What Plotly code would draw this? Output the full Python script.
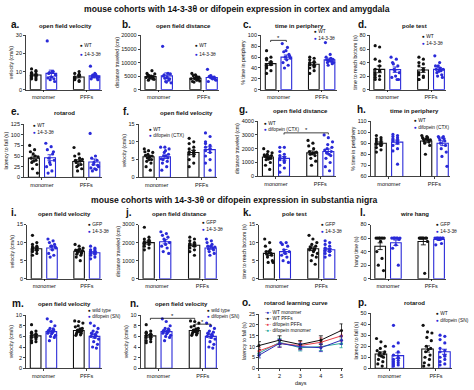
import plotly.graph_objects as go

W, H = 474, 390
BLUE = "#2a2ad8"
BLACK = "#111111"
FONT = "Liberation Sans, Arial, sans-serif"
GROUPS = ["monomer", "PFFs"]

# ---------------- data ----------------
# a. open field velocity (cm/s)  [WT mono, 14-3-3 mono, WT PFF, 14-3-3 PFF]
a_pts = [[7.5, 8, 9, 10, 11.5, 6.5, 7, 8.5, 9.5, 10.5, 6, 7.5, 8, 5.5],
         [27, 10, 9, 6, 5.5, 8, 7, 6.5, 10, 9.5, 4.5, 7],
         [7, 8, 6, 5, 9, 10, 6.5, 7.5, 5.5, 8.5, 6, 4.5, 7, 8],
         [13, 8.5, 7, 6.5, 8, 7, 9, 6, 7.5, 8, 5.5, 7]]
a_mean = [8.1, 9.0, 7.0, 7.6]
a_sem = [0.5, 1.8, 0.5, 0.6]
# b. open field distance (cm)
b_pts = [[4500, 5000, 6000, 7000, 5500, 4000, 3500, 4800, 5200, 3800, 4200, 5800, 4600],
         [16000, 6000, 5500, 4000, 3000, 2500, 4500, 5000, 3500, 4200, 5800, 2800],
         [4000, 5000, 6000, 3500, 3000, 4500, 5200, 3800, 2800, 4600, 4100, 3200, 5500],
         [7500, 4500, 5000, 3500, 4000, 4800, 3800, 4200, 3000, 4600, 5200]]
b_mean = [4800, 5100, 4200, 4500]
b_sem = [300, 1100, 280, 350]
# c. time in periphery (%)
c_pts = [[72, 60, 55, 50, 45, 48, 40, 35, 30, 52, 58, 46, 42, 47],
         [85, 78, 70, 65, 60, 58, 55, 50, 45, 40, 62, 72],
         [60, 58, 55, 50, 48, 45, 40, 35, 30, 52, 46, 42, 50, 44],
         [87, 65, 60, 58, 55, 52, 50, 48, 45, 56, 54, 50, 53]]
c_mean = [48, 60, 47, 55]
c_sem = [3, 4, 3, 3]
# d. pole test (s)
d_pts = [[65, 63, 45, 35, 30, 28, 25, 20, 18, 15, 22, 27, 15, 42],
         [48, 45, 40, 35, 30, 25, 20, 18, 15, 38, 15, 28],
         [48, 45, 40, 38, 35, 30, 25, 20, 15, 18, 22, 28, 15, 30],
         [50, 40, 35, 32, 30, 28, 25, 22, 20, 18, 35, 30, 27]]
d_mean = [30, 29.5, 29, 30]
d_sem = [5, 4, 3.5, 2.5]
# e. rotarod (s)
e_pts = [[75, 65, 60, 50, 45, 40, 35, 30, 20, 10, 55, 48, 38],
         [80, 72, 65, 55, 45, 40, 30, 25, 15, 10, 60, 35],
         [70, 55, 50, 45, 40, 38, 35, 30, 25, 20, 15, 42, 28],
         [103, 50, 45, 40, 30, 25, 20, 22, 18, 15, 28, 35]]
e_mean = [45, 46, 37, 36]
e_sem = [5, 7, 4, 7]
# f. open field velocity (cm/s)
f_pts = [[8, 7.5, 7, 6.5, 6, 5.5, 5, 4.5, 4, 3, 2, 6.2, 5.8, 7.2, 5],
         [8.5, 8.5, 8, 7, 6.5, 6, 5.5, 5, 4.5, 4, 3, 2, 6, 5.2, 7.5],
         [11, 10, 9.5, 8.5, 8, 7, 6.5, 6, 5, 4, 3, 7.5, 7.2, 6.8],
         [12.5, 11.5, 10, 9, 8.5, 8, 7.5, 7, 6, 5, 4, 2, 9.5, 8]]
f_mean = [5.8, 5.8, 7.0, 7.8]
f_sem = [0.4, 0.5, 0.6, 0.8]
# g. open field distance (cm)
g_pts = [[2000, 1800, 1700, 1600, 1500, 1400, 1300, 1200, 1000, 800, 500, 1450, 1350, 1550, 1250],
         [2100, 2100, 1800, 1600, 1500, 1400, 1200, 1000, 800, 600, 300, 1300, 1350, 1100],
         [2600, 2400, 2200, 2000, 1800, 1700, 1600, 1500, 1300, 1100, 800, 1750, 1650],
         [3000, 2800, 2500, 2300, 2100, 2000, 1800, 1700, 1500, 1300, 1000, 700, 400, 1900, 1600]]
g_mean = [1400, 1300, 1700, 1800]
g_sem = [100, 130, 140, 180]
# h. time in periphery (%)
h_pts = [[97, 95, 94, 93, 92, 90, 89, 88, 86, 84, 82, 91, 90, 88],
         [98, 97, 96, 95, 94, 93, 92, 90, 88, 85, 83, 71, 93, 91],
         [97, 96, 95, 95, 94, 93, 92, 91, 90, 88, 80, 93, 94],
         [96, 96, 95, 94, 93, 92, 90, 88, 85, 82, 78, 69, 95]]
h_mean = [90, 91, 92, 90]
h_sem = [1.2, 1.8, 1.2, 2.2]
# i. open field velocity (cm/s)
i_pts = [[12, 10, 9.5, 9, 8.5, 8.2, 8, 7.8, 7.5, 7, 6.5, 8.5, 8.8, 8],
         [11, 10.5, 10, 9.5, 9, 8.5, 8, 7, 6.5, 6, 8.8, 9],
         [9.5, 9, 8.5, 8, 7.8, 7.6, 7.5, 7.2, 7, 6.8, 6.5, 6, 5, 7.9, 8.2],
         [9, 8.5, 8, 7.8, 7.5, 7.2, 7, 6.8, 6.5, 6, 5.5, 7.3, 7.6, 8.2]]
i_mean = [8.3, 8.5, 7.6, 7.2]
i_sem = [0.4, 0.5, 0.3, 0.3]
# j. open field distance (cm)
j_pts = [[2850, 2300, 2200, 2100, 2050, 2000, 1950, 1900, 1800, 1700, 1600, 2050, 1950, 2150],
         [2600, 2500, 2400, 2300, 2200, 2000, 1900, 1800, 1700, 1500, 1400, 2100],
         [2300, 2200, 2100, 2000, 1950, 1900, 1850, 1800, 1700, 1600, 1500, 1300, 1900, 1850],
         [2200, 2100, 2000, 1900, 1800, 1700, 1650, 1600, 1500, 1400, 1300, 1750, 1800]]
j_mean = [2000, 2050, 1850, 1700]
j_sem = [80, 120, 70, 70]
# k. pole test (s)
k_pts = [[11, 10, 9, 8, 7.5, 7, 6.8, 6.5, 6, 5, 4.5, 4.5, 7.5],
         [10, 10, 9.5, 9, 8, 7.5, 7, 6.5, 6, 5, 4.5, 7.2],
         [12, 11, 10, 9.5, 9, 8.5, 8.3, 8, 7.5, 7, 6.5, 6, 5, 4, 8.8, 8],
         [10.5, 10, 9.5, 9, 8.5, 8, 7.8, 7.5, 7, 6.5, 6, 8.2, 8.4, 7.6]]
k_mean = [7.0, 7.5, 8.3, 8.0]
k_sem = [0.6, 0.6, 0.5, 0.4]
# l. wire hang (s)
l_pts = [[60, 60, 60, 60, 60, 60, 55, 40, 30, 20, 12, 60],
         [60, 60, 60, 60, 60, 60, 58, 50, 45, 20, 60],
         [60, 60, 60, 60, 60, 60, 60, 55, 8, 60],
         [60, 60, 60, 60, 60, 60, 60, 58, 50, 52, 60]]
l_mean = [48, 53, 55, 58]
l_sem = [5, 4, 5, 1.5]
# m./n. open field velocity (cm/s)
m_pts = [[8.2, 7, 6.8, 6.5, 6.2, 6, 5.8, 5.5, 5.2, 5, 4.8, 6.3, 6.6, 5.8],
         [9.3, 8.8, 8, 7.5, 7.2, 7, 6.8, 6.6, 6.5, 6.2, 6, 5.8, 5.2, 7.4, 7.1, 6.9],
         [8.9, 8.8, 8.5, 8, 7.5, 7.2, 7, 6.8, 6.6, 6.5, 6.3, 6.2, 7.4, 7.8, 6.9],
         [8.5, 8, 7.5, 7, 6.8, 6.5, 6.2, 6, 5.8, 5.5, 5, 4.5, 4, 3.8, 6.6, 6.4]]
m_mean = [6.1, 6.9, 7.1, 6.0]
m_sem = [0.25, 0.25, 0.2, 0.3]
# o. rotarod learning curve (s)
o_days = [1, 2, 3, 4, 5]
o_wt_mono = [6, 11.5, 10, 9.5, 13]
o_wt_mono_err = [1.2, 1.8, 1.5, 1.8, 2.0]
o_wt_pff = [10.5, 13, 11, 13, 17.5]
o_wt_pff_err = [1.8, 2.0, 1.8, 2.0, 3.0]
o_dif_pff = [8, 11.5, 10.5, 12, 15]
o_dif_pff_err = [1.5, 1.8, 1.8, 2.0, 2.5]
o_dif_mono = [7, 12, 9.5, 10, 11.5]
o_dif_mono_err = [1.2, 1.8, 1.5, 1.8, 2.0]
# p. rotarod (s)
p_pts = [[27, 24, 20, 18, 15, 14, 13, 12, 10, 8, 6, 4, 2, 16, 11],
         [39, 23, 20, 15, 12, 10, 8, 7, 6, 5, 4, 3, 2, 9],
         [39, 33, 32, 28, 25, 20, 18, 15, 12, 10, 8, 5, 3, 2, 17],
         [30, 29, 26, 23, 18, 16, 15, 12, 10, 8, 6, 4, 3, 11]]
p_mean = [13, 11.5, 17.5, 15]
p_sem = [1.8, 2.5, 2.8, 2.3]

# ---------------- figure ----------------
fig = go.Figure()
axes = {}
annotations = []
shapes = []
XPOS = [0, 1, 2.75, 3.75]


def fx(px):
    return px / W


def fy(py):
    return 1 - py / H


def axis_common():
    return dict(showline=True, linecolor=BLACK, linewidth=0.8, ticks="outside",
                ticklen=2, tickwidth=0.8, tickcolor=BLACK, showgrid=False,
                zeroline=False, fixedrange=True,
                tickfont=dict(size=5.5, color=BLACK, family=FONT))


def add_text(x, y, text, size=5.5, bold=False, anchor="center", xref="paper", yref="paper"):
    if bold:
        text = "<b>" + text + "</b>"
    annotations.append(dict(x=x, y=y, xref=xref, yref=yref, text=text, showarrow=False,
                            xanchor=anchor, yanchor="middle",
                            font=dict(size=size, color=BLACK, family=FONT)))


def add_legend(xpx, ypx, items, size=4.8):
    for n, (col, label, sym) in enumerate(items):
        add_text(fx(xpx), fy(ypx[n]), f"<span style='color:{col}'>{sym}</span> {label}",
                 size=size, anchor="left")


def bar_panel(k, L, R, T, B, pts, means, sems, yr, yt, ytitle):
    xa, ya = f"x{k}", f"y{k}"
    for j in range(4):
        col = BLACK if j % 2 == 0 else BLUE
        fig.add_trace(go.Bar(x=[XPOS[j]], y=[means[j]], width=0.68, xaxis=xa, yaxis=ya,
                             marker=dict(color="white", line=dict(color=col, width=1.1)),
                             showlegend=False, hoverinfo="skip"))
    for j in range(4):
        col = BLACK if j % 2 == 0 else BLUE
        n = len(pts[j])
        offs = [(((i * 7) % n) / max(n - 1, 1) - 0.5) * 0.52 for i in range(n)]
        fig.add_trace(go.Scatter(x=[XPOS[j] + o for o in offs], y=pts[j], mode="markers",
                                 xaxis=xa, yaxis=ya, cliponaxis=False,
                                 marker=dict(color=col, size=3.2, line=dict(width=0)),
                                 showlegend=False, hoverinfo="skip"))
    for j in range(4):
        col = BLACK if j % 2 == 0 else BLUE
        fig.add_trace(go.Scatter(x=[XPOS[j]], y=[means[j]], mode="markers",
                                 xaxis=xa, yaxis=ya,
                                 marker=dict(size=1, opacity=0),
                                 error_y=dict(type="data", array=[sems[j]], arrayminus=[sems[j]],
                                              color=col, thickness=0.9, width=2.5),
                                 showlegend=False, hoverinfo="skip"))
    xk = "xaxis" if k == 1 else f"xaxis{k}"
    yk = "yaxis" if k == 1 else f"yaxis{k}"
    axes[xk] = dict(axis_common(), domain=[fx(L), fx(R)], anchor=ya, range=[-0.62, 4.2],
                    tickvals=[0.5, 3.25], ticktext=GROUPS)
    axes[yk] = dict(axis_common(), domain=[fy(B), fy(T)], anchor=xa, range=yr,
                    tickvals=yt, ticktext=[str(v) for v in yt],
                    title=dict(text=ytitle, standoff=1,
                               font=dict(size=5.2, color=BLACK, family=FONT)))


def bracket(k, x0, x1, y, dy, star_dy):
    xa, ya = f"x{k}", f"y{k}"
    for (a, b, c, d) in [(x0, y, x1, y), (x0, y, x0, y - dy), (x1, y, x1, y - dy)]:
        shapes.append(dict(type="line", xref=xa, yref=ya, x0=a, y0=b, x1=c, y1=d,
                           line=dict(color=BLACK, width=0.8)))
    add_text((x0 + x1) / 2, y + star_dy, "*", size=6, xref=xa, yref=ya)


def leg2(xpx, y1, y2, name1, name2):
    add_legend(xpx, [y1, y2], [(BLACK, name1, "●"), (BLUE, name2, "●")])


# main titles
add_text(0.497, fy(6), "mouse cohorts with 14-3-3θ or difopein expression in cortex and amygdala",
         size=8.6, bold=True)
add_text(0.493, fy(200), "mouse cohorts with 14-3-3θ or difopein expression in substantia nigra",
         size=8.6, bold=True)

# row 1
bar_panel(1, 24, 100, 33, 88, a_pts, a_mean, a_sem, [0, 30], [0, 10, 20, 30], "velocity (cm/s)")
bar_panel(2, 139, 218, 33, 88, b_pts, b_mean, b_sem, [0, 20000], [0, 5000, 10000, 15000, 20000],
          "distance traveled (cm)")
bar_panel(3, 260, 336, 33, 88, c_pts, c_mean, c_sem, [0, 100], [0, 20, 40, 60, 80, 100],
          "% time in periphery")
bar_panel(4, 369, 446, 33, 88, d_pts, d_mean, d_sem, [0, 80], [0, 20, 40, 60, 80],
          "time to reach bottom (s)")
# row 2
bar_panel(5, 22, 100, 123, 177, e_pts, e_mean, e_sem, [0, 125], [0, 25, 50, 75, 100, 125],
          "latency to fall (s)")
bar_panel(6, 137, 216, 123, 177, f_pts, f_mean, f_sem, [0, 15], [0, 5, 10, 15], "velocity (cm/s)")
bar_panel(7, 257, 335, 120, 176, g_pts, g_mean, g_sem, [0, 4000], [0, 1000, 2000, 3000, 4000],
          "distance traveled (cm)")
bar_panel(8, 370, 450, 120, 176, h_pts, h_mean, h_sem, [60, 110], [60, 70, 80, 90, 100, 110],
          "% time in periphery")
# row 3
bar_panel(9, 25, 100, 225, 280, i_pts, i_mean, i_sem, [0, 15], [0, 5, 10, 15], "velocity (cm/s)")
bar_panel(10, 137, 217, 225, 280, j_pts, j_mean, j_sem, [0, 3000], [0, 1000, 2000, 3000],
          "distance traveled (cm)")
bar_panel(11, 258, 336, 225, 280, k_pts, k_mean, k_sem, [0, 15], [0, 5, 10, 15],
          "time to reach bottom (s)")
bar_panel(12, 370, 446, 225, 280, l_pts, l_mean, l_sem, [0, 80], [0, 20, 40, 60, 80], "hang time (s)")
# row 4
bar_panel(13, 24, 100, 317, 371, m_pts, m_mean, m_sem, [0, 10], [0, 2, 4, 6, 8, 10], "velocity (cm/s)")
bar_panel(14, 139, 217, 317, 371, m_pts, m_mean, m_sem, [0, 10], [0, 2, 4, 6, 8, 10], "velocity (cm/s)")
bar_panel(16, 370, 452, 315, 371, p_pts, p_mean, p_sem, [0, 50], [0, 10, 20, 30, 40, 50],
          "latency to fall (s)")

# panel o line chart
O_SERIES = [("WT monomer", o_wt_mono, o_wt_mono_err, "#2b2bb8"),
            ("WT PFFs", o_wt_pff, o_wt_pff_err, BLACK),
            ("difopein PFFs", o_dif_pff, o_dif_pff_err, "#e8404a"),
            ("difopein monomer", o_dif_mono, o_dif_mono_err, "#2aa89a")]
for name, ys, es, col in reversed(O_SERIES):
    fig.add_trace(go.Scatter(x=o_days, y=ys, mode="lines+markers", xaxis="x15", yaxis="y15",
                             line=dict(color=col, width=1), marker=dict(color=col, size=3),
                             error_y=dict(type="data", array=es, color=col, thickness=0.8, width=2),
                             showlegend=False, hoverinfo="skip", cliponaxis=False))
axes["xaxis15"] = dict(axis_common(), domain=[fx(258), fx(342)], anchor="y15", range=[1, 5.05],
                       tickvals=o_days, ticktext=[str(d) for d in o_days])
axes["yaxis15"] = dict(axis_common(), domain=[fy(371), fy(316)], anchor="x15", range=[0, 25],
                       tickvals=[0, 5, 10, 15, 20, 25], ticktext=["0", "5", "10", "15", "20", "25"],
                       title=dict(text="latency to fall (s)", standoff=1,
                                  font=dict(size=5.2, color=BLACK, family=FONT)))
add_text(fx(300), fy(385.5), "days", size=5.5)
add_legend(262, [314, 320, 327, 333], [(c, n, "-●-") for n, _, _, c in O_SERIES], size=4.8)

# significance brackets
bracket(3, 0, 1, 91, 3, 4)
bracket(7, 1, 3.75, 3150, 120, 180)
bracket(14, 0, 2.75, 9.4, 0.3, 0.4)
bracket(14, 2.75, 3.75, 8.3, 0.3, 0.4)

# legends
leg2(76, 43, 52, "WT", "14-3-3θ")
leg2(192, 43, 52, "WT", "14-3-3θ")
leg2(311, 29, 36, "WT", "14-3-3θ")
leg2(420, 34, 41, "WT", "14-3-3θ")
leg2(29, 124, 132, "WT", "14-3-3θ")
leg2(146, 128, 135, "WT", "difopein (CTX)")
leg2(261, 122, 128, "WT", "difopein (CTX)")
leg2(412, 119, 126, "WT", "difopein (CTX)")
leg2(84, 225, 232, "GFP", "14-3-3θ")
leg2(199, 223, 230, "GFP", "14-3-3θ")
leg2(318, 225, 232, "GFP", "14-3-3θ")
leg2(434, 225, 232, "GFP", "14-3-3θ")
leg2(84, 312, 318, "wild type", "difopein (SN)")
leg2(204, 312, 318, "wild type", "difopein (SN)")
leg2(434, 315, 322, "WT", "difopein (SN)")

# panel letters and titles
LETTERS = [("a.", 7, 22), ("b.", 118, 22), ("c.", 240, 22), ("d.", 355, 22),
           ("e.", 7, 110), ("f.", 120, 110), ("g.", 236, 108), ("h.", 354, 108),
           ("i.", 7, 213), ("j.", 122, 213), ("k.", 240, 213), ("l.", 358, 213),
           ("m.", 8, 305), ("n.", 127, 305), ("o.", 239, 304), ("p.", 356, 304)]
for t, x, y in LETTERS:
    add_text(fx(x), fy(y), t, size=10, bold=True, anchor="left")

TITLES = [("open field velocity", 64, 23), ("open field distance", 182, 23),
          ("time in periphery", 299, 23), ("pole test", 414, 23),
          ("rotarod", 63, 112), ("open field velocity", 185, 112),
          ("open field distance", 300, 110), ("time in periphery", 414, 110),
          ("open field velocity", 63, 214), ("open field distance", 178, 214),
          ("pole test", 294, 214), ("wire hang", 414, 214),
          ("open field velocity", 63, 306), ("open field velocity", 180, 306),
          ("rotarod learning curve", 295, 305), ("rotarod", 414, 305)]
for t, x, y in TITLES:
    add_text(fx(x), fy(y), t, size=6, bold=True)

fig.update_layout(width=W, height=H, margin=dict(l=0, r=0, t=0, b=0),
                  paper_bgcolor="white", plot_bgcolor="white", showlegend=False,
                  barmode="overlay", font=dict(family=FONT, color=BLACK, size=5.5),
                  annotations=annotations, shapes=shapes, **axes)
fig.write_html("out.html", config={"staticPlot": True},
               post_script="document.body.style.margin='0';document.body.style.overflow='hidden';")
